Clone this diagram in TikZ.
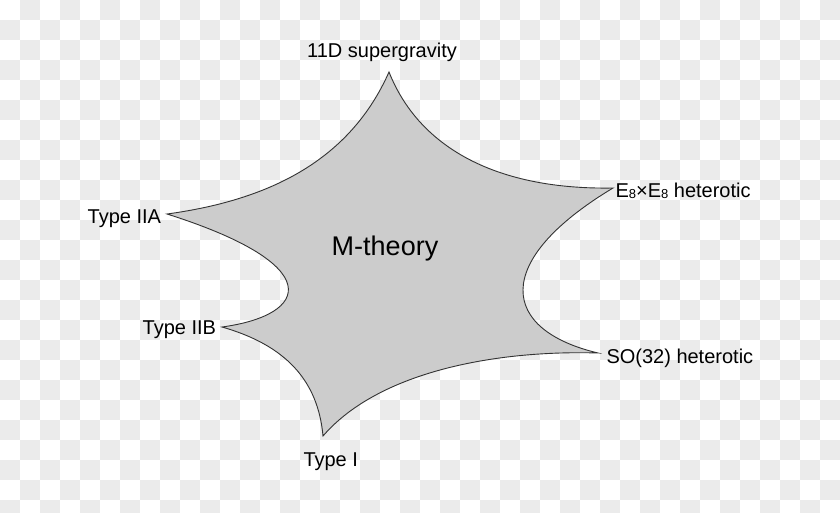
\documentclass[tikz,border=0pt]{standalone}
\usepackage{fontspec}
\setmainfont{Liberation Sans}
\definecolor{chk}{HTML}{EBEBEB}
\definecolor{starfill}{HTML}{CCCCCC}
\definecolor{starline}{HTML}{333333}
\tikzset{
  lbl/.style={inner sep=0pt, outer sep=0pt, font=\fontsize{20}{24}\selectfont, text=black},
  big/.style={inner sep=0pt, outer sep=0pt, font=\fontsize{27}{32}\selectfont, text=black},
  star/.style={fill=starfill, draw=starline, line width=0.9pt, line join=miter},
}
\newcommand{\subeight}{\raisebox{-0.6pt}{\fontsize{13}{13}\selectfont 8}}
\begin{document}
\begin{tikzpicture}[x=1pt,y=-1pt]
\useasboundingbox (0,0) rectangle (840,512);
\fill[white] (0,0) rectangle (840,512);
\begin{scope}
\clip (0,0) rectangle (840,512);
\foreach \i in {0,...,41}{
  \foreach \j in {0,...,25}{
    \pgfmathtruncatemacro\p{mod(\i+\j,2)}
    \ifnum\p=1 \fill[chk] (\i*20,\j*20) rectangle ++(20,20); \fi
  }
}
\end{scope}
% cusps
\coordinate (top) at (389,72);
\coordinate (e8) at (613,188);
\coordinate (so) at (598,353);
\coordinate (t1) at (323,436);
\coordinate (iib) at (222,327);
\coordinate (iia) at (167,214);
\draw[star] (top)
  .. controls (420,150) and (500,190) .. (e8)
  .. controls (490,262) and (501,330) .. (so)
  .. controls (500,350) and (380,370) .. (t1)
  .. controls (318,380) and (285,345) .. (iib)
  .. controls (310,315) and (328,265) .. (iia)
  .. controls (270,200) and (350,160) .. (top) -- cycle;
% labels
\node[big, anchor=base] (m) at (385,255) {M-theory};
\node[lbl, anchor=base] (sugra) at (382,57) {11D supergravity};
\node[lbl, anchor=base west] (het8) at (615.5,197.5) {E\subeight{}×E\subeight{} heterotic};
\node[lbl, anchor=base west] (het32) at (606.5,363.3) {SO(32) heterotic};
\node[lbl, anchor=base west] (typei) at (303.5,466.7) {Type I};
\node[lbl, anchor=base east] (typeiib) at (216,334.5) {Type IIB};
\node[lbl, anchor=base east] (typeiia) at (161,223.3) {Type IIA};
\end{tikzpicture}
\end{document}
